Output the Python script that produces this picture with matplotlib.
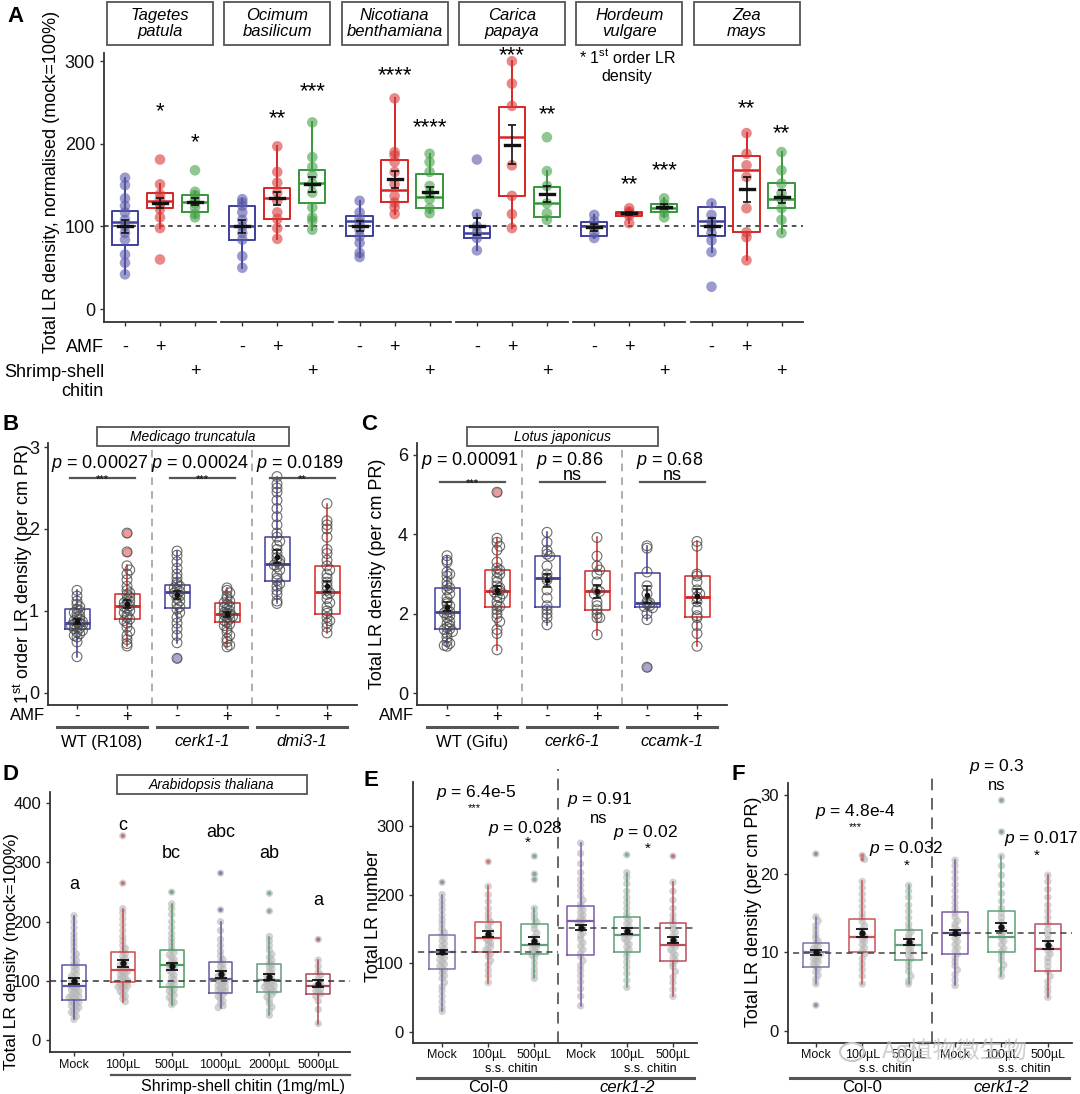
import matplotlib
matplotlib.use('Agg')
import matplotlib.pyplot as plt
from matplotlib.patches import Rectangle, Ellipse
from matplotlib.lines import Line2D
from matplotlib.transforms import blended_transform_factory
import numpy as np

plt.rcParams['font.family'] = ['Liberation Sans', 'DejaVu Sans']
plt.rcParams['mathtext.fontset'] = 'custom'
plt.rcParams['mathtext.rm'] = 'Liberation Sans'
plt.rcParams['mathtext.it'] = 'Liberation Sans:italic'

# ---------------- data: panel A ----------------
a_species = ['Tagetes\npatula', 'Ocimum\nbasilicum', 'Nicotiana\nbenthamiana',
             'Carica\npapaya', 'Hordeum\nvulgare', 'Zea\nmays']
a_pts_mock = [[159, 150, 134, 125, 117, 108, 100, 92, 84, 66, 56, 42],
              [133, 129, 125, 117, 108, 100, 92, 84, 64, 50],
              [131, 117, 109, 104, 96, 88, 80, 68, 63],
              [181, 115, 100, 92, 86, 71],
              [114, 106, 99, 92, 86],
              [128, 114, 106, 100, 92, 83, 69, 27]]
a_pts_amf = [[181, 151, 139, 133, 127, 121, 111, 98, 60],
             [197, 166, 153, 141, 131, 117, 109, 98, 85],
             [255, 190, 186, 178, 166, 151, 137, 129, 123, 115],
             [300, 273, 246, 174, 137, 115, 98],
             [122, 118, 116, 113, 104],
             [213, 188, 174, 160, 122, 93, 87, 59]]
a_pts_chitin = [[168, 142, 138, 133, 128, 123, 115, 111],
                [226, 184, 172, 162, 152, 141, 123, 111, 107, 96],
                [188, 178, 166, 149, 140, 133, 122, 116],
                [208, 167, 149, 128, 116, 108],
                [134, 127, 122, 117, 111],
                [190, 168, 152, 140, 133, 122, 108, 92]]
# (whislo, q1, median, q3, whishi)
a_box_mock = [(42, 78, 105, 119, 159), (50, 83, 100, 125, 133), (63, 88, 107, 113, 131),
              (71, 86, 92, 101, 115), (86, 89, 100, 105, 114), (69, 88, 106, 124, 128)]
a_box_amf = [(98, 122, 131, 140, 151), (85, 109, 135, 147, 197), (115, 129, 144, 180, 255),
             (98, 137, 208, 245, 300), (104, 113, 116, 118, 122), (59, 93, 168, 185, 213)]
a_box_chitin = [(111, 118, 130, 138, 142), (96, 128, 152, 168, 226), (116, 122, 136, 164, 188),
                (108, 111, 128, 148, 167), (111, 117, 122, 127, 134), (92, 122, 133, 152, 190)]
a_mean_mock = [100, 100, 100, 100, 99, 100]
a_se_mock = [8, 8, 6, 10, 4, 10]
a_mean_amf = [128, 134, 157, 199, 116, 145]
a_se_amf = [6, 8, 10, 24, 2, 15]
a_mean_chitin = [130, 151, 142, 139, 124, 136]
a_se_chitin = [4, 9, 6, 10, 3, 8]
a_star_amf = ['*', '**', '****', '***', '**', '**']
a_star_amf_y = [239, 231, 282, 307, 151, 242]
a_star_chitin = ['*', '***', '****', '**', '***', '**']
a_star_chitin_y = [201, 263, 219, 235, 168, 212]

# ---------------- data: panel B (Medicago) ----------------
b_genotypes = ['WT (R108)', 'cerk1-1', 'dmi3-1']
b_pts = [[1.25, 1.18, 1.12, 1.08, 1.05, 1.02, 1.0, 0.98, 0.96, 0.94, 0.92, 0.9, 0.88, 0.87, 0.86,
          0.85, 0.84, 0.83, 0.82, 0.8, 0.79, 0.78, 0.76, 0.74, 0.72, 0.7, 0.68, 0.62, 0.44],
         [1.95, 1.72, 1.55, 1.5, 1.45, 1.38, 1.3, 1.25, 1.22, 1.2, 1.17, 1.14, 1.12, 1.1, 1.08, 1.06,
          1.05, 1.03, 1.0, 0.98, 0.95, 0.92, 0.9, 0.88, 0.85, 0.8, 0.75, 0.7, 0.65, 0.6, 0.57],
         [1.73, 1.68, 1.6, 1.52, 1.45, 1.4, 1.35, 1.32, 1.3, 1.28, 1.26, 1.24, 1.22, 1.2, 1.18, 1.15,
          1.12, 1.08, 1.05, 1.02, 0.98, 0.92, 0.85, 0.78, 0.7, 0.61, 0.42],
         [1.28, 1.25, 1.22, 1.18, 1.15, 1.12, 1.1, 1.08, 1.06, 1.04, 1.02, 1.0, 0.98, 0.97, 0.96, 0.95,
          0.93, 0.92, 0.9, 0.88, 0.86, 0.84, 0.82, 0.78, 0.74, 0.7, 0.66, 0.62, 0.58, 0.56],
         [2.64, 2.55, 2.5, 2.45, 2.35, 2.25, 2.15, 2.05, 1.95, 1.9, 1.85, 1.8, 1.75, 1.7, 1.65, 1.62,
          1.6, 1.58, 1.56, 1.54, 1.5, 1.45, 1.4, 1.37, 1.33, 1.3, 1.25, 1.2, 1.12, 1.09],
         [2.31, 2.1, 2.05, 2.0, 1.9, 1.75, 1.7, 1.62, 1.55, 1.5, 1.45, 1.4, 1.35, 1.3, 1.25, 1.22,
          1.2, 1.15, 1.1, 1.05, 1.0, 0.97, 0.92, 0.88, 0.85, 0.8, 0.73]]
b_box = [(0.44, 0.78, 0.85, 1.02, 1.25), (0.57, 0.90, 1.06, 1.21, 1.56), (0.61, 1.03, 1.23, 1.31, 1.73),
         (0.56, 0.86, 0.96, 1.09, 1.28), (1.09, 1.37, 1.57, 1.90, 2.64), (0.73, 0.96, 1.23, 1.55, 2.31)]
b_fliers = [[], [1.95, 1.72], [0.42], [], [], []]
b_mean = [0.87, 1.08, 1.19, 0.96, 1.66, 1.30]
b_se = [0.03, 0.05, 0.05, 0.03, 0.08, 0.07]
b_pvals = ['0.00027', '0.00024', '0.0189']
b_stars = ['***', '***', '**']

# ---------------- data: panel C (Lotus) ----------------
c_genotypes = ['WT (Gifu)', 'cerk6-1', 'ccamk-1']
c_pts = [[3.46, 3.35, 3.3, 3.05, 3.0, 2.95, 2.8, 2.7, 2.65, 2.6, 2.5, 2.4, 2.3, 2.25, 2.2, 2.1, 2.05,
          2.02, 2.0, 1.95, 1.9, 1.8, 1.75, 1.7, 1.65, 1.62, 1.6, 1.55, 1.5, 1.4, 1.3, 1.25, 1.2, 1.18],
         [5.06, 3.9, 3.8, 3.7, 3.6, 3.3, 3.15, 3.1, 3.05, 3.0, 2.9, 2.8, 2.7, 2.65, 2.6, 2.58, 2.55,
          2.5, 2.45, 2.4, 2.3, 2.2, 2.18, 2.1, 2.0, 1.9, 1.8, 1.6, 1.5, 1.09],
         [4.05, 3.8, 3.6, 3.5, 3.45, 3.2, 3.0, 2.9, 2.85, 2.6, 2.4, 2.2, 2.1, 2.0, 1.9, 1.72],
         [3.92, 3.45, 3.2, 3.1, 3.0, 2.8, 2.6, 2.56, 2.5, 2.3, 2.2, 2.1, 2.0, 1.9, 1.9, 1.47],
         [3.71, 3.65, 3.05, 2.7, 2.5, 2.3, 2.27, 2.25, 2.2, 2.18, 2.15, 2.0, 1.85, 0.65],
         [3.82, 3.7, 3.0, 2.95, 2.8, 2.6, 2.5, 2.42, 2.3, 2.1, 1.95, 1.9, 1.7, 1.5, 1.18]]
c_box = [(1.18, 1.61, 2.04, 2.65, 3.46), (1.09, 2.18, 2.58, 3.09, 3.90), (1.72, 2.18, 2.90, 3.45, 4.05),
         (1.47, 2.10, 2.56, 3.08, 3.92), (1.85, 2.16, 2.27, 3.03, 3.71), (1.18, 1.92, 2.42, 2.94, 3.82)]
c_fliers = [[], [5.06], [], [], [0.65], []]
c_mean = [2.18, 2.60, 2.84, 2.56, 2.48, 2.44]
c_se = [0.12, 0.10, 0.16, 0.17, 0.22, 0.17]
c_pvals = ['0.00091', '0.86', '0.68']
c_stars = ['***', 'ns', 'ns']

# ---------------- data: panel D (Arabidopsis, dose) ----------------
d_labels = ['Mock', '100µL', '500µL', '1000µL', '2000µL', '5000µL']
d_pts = [[210, 200, 190, 180, 172, 165, 158, 150, 145, 140, 135, 130, 127, 124, 120, 116, 112, 108,
          105, 102, 99, 96, 93, 91, 89, 87, 85, 83, 80, 78, 76, 74, 72, 70, 68, 66, 64, 62, 60, 58,
          55, 52, 50, 47, 44, 40, 35],
         [345, 265, 222, 215, 205, 195, 185, 175, 168, 160, 155, 150, 146, 142, 138, 134, 130, 127,
          124, 121, 119, 117, 115, 112, 110, 107, 105, 102, 100, 98, 96, 94, 92, 90, 88, 85, 82, 78,
          74, 70, 65],
         [250, 230, 222, 212, 200, 190, 180, 172, 165, 158, 152, 148, 144, 140, 136, 132, 129, 127,
          125, 122, 118, 114, 110, 106, 102, 98, 95, 92, 89, 86, 83, 80, 76, 72, 68, 64, 60],
         [282, 220, 200, 185, 170, 160, 150, 142, 136, 132, 128, 124, 120, 116, 112, 108, 105, 103,
          101, 99, 97, 95, 92, 90, 88, 86, 84, 82, 80, 77, 74, 70, 66, 62, 58, 55],
         [248, 218, 175, 168, 160, 152, 145, 140, 135, 130, 127, 124, 120, 116, 112, 108, 105, 102,
          100, 98, 96, 94, 92, 90, 88, 86, 84, 82, 80, 77, 73, 68, 62, 56, 50, 42],
         [170, 135, 125, 115, 110, 104, 98, 94, 91, 89, 86, 83, 80, 78, 74, 66, 52, 28]]
d_box = [(35, 68, 91, 127, 210), (65, 98, 119, 149, 222), (60, 89, 127, 152, 230),
         (55, 80, 103, 132, 200), (42, 82, 102, 129, 175), (28, 78, 91, 112, 135)]
d_fliers = [[], [345, 265], [250], [282, 220], [248, 218], [170]]
d_mean = [100, 130, 125, 111, 106, 95]
d_se = [5, 6, 6, 6, 5, 6]
d_letters = ['a', 'c', 'bc', 'abc', 'ab', 'a']
d_letter_y = [262, 362, 315, 350, 315, 235]

# ---------------- data: panel E (LR number) ----------------
ef_labels = ['Mock', '100µL', '500µL', 'Mock', '100µL', '500µL']
e_pts = [[218, 200, 192, 185, 178, 170, 163, 157, 150, 145, 141, 137, 133, 129, 125, 121, 118, 116,
          114, 111, 108, 105, 102, 99, 96, 93, 90, 86, 82, 78, 72, 66, 60, 52, 44, 36, 30],
         [248, 212, 200, 190, 180, 172, 165, 160, 155, 150, 146, 142, 138, 136, 133, 130, 127, 124,
          120, 117, 114, 110, 104, 98, 90, 82, 72],
         [256, 230, 222, 180, 172, 165, 160, 156, 150, 144, 138, 132, 128, 126, 124, 121, 118, 115,
          112, 108, 100, 92, 85, 78],
         [275, 260, 245, 232, 222, 214, 206, 198, 192, 186, 182, 178, 174, 170, 166, 163, 160, 156,
          152, 148, 144, 140, 135, 130, 125, 120, 115, 110, 104, 97, 90, 82, 73, 63, 52, 38],
         [258, 232, 225, 216, 205, 196, 188, 180, 172, 167, 162, 158, 153, 149, 145, 142, 139, 136,
          132, 128, 124, 120, 116, 110, 102, 94, 85, 75, 65],
         [256, 218, 205, 192, 180, 170, 162, 156, 150, 145, 140, 135, 130, 127, 124, 120, 116, 112,
          108, 104, 100, 95, 88, 80, 72, 62, 52]]
e_box = [(30, 92, 117, 141, 200), (72, 117, 137, 160, 212), (78, 113, 126, 157, 180),
         (38, 112, 162, 184, 275), (65, 117, 141, 168, 232), (52, 103, 127, 158, 218)]
e_fliers = [[218], [248], [256, 230, 222], [], [258], [256]]
e_mean = [117, 143, 133, 152, 147, 134]
e_se = [3, 4, 5, 4, 4, 5]
e_ref = [117, 152]

# ---------------- data: panel F (LR density) ----------------
f_pts = [[22.5, 14.5, 14, 13.4, 12.8, 12.2, 11.8, 11.4, 11.1, 10.8, 10.5, 10.3, 10.1, 10.0, 9.8, 9.6,
          9.4, 9.2, 9.0, 8.8, 8.5, 8.2, 7.9, 7.5, 7.1, 6.6, 6.0, 3.3],
         [22.3, 21.8, 19, 18.2, 17.4, 16.6, 15.8, 15.0, 14.4, 13.9, 13.4, 12.9, 12.4, 12.0, 11.7, 11.4,
          11.0, 10.6, 10.2, 9.8, 9.2, 8.5, 7.8, 7.0, 6.0],
         [18.5, 17.8, 17, 16, 15.2, 14.4, 13.6, 13.0, 12.6, 12.2, 11.8, 11.4, 11.0, 10.7, 10.4, 10.0,
          9.6, 9.2, 8.8, 8.2, 7.6, 7.0, 6.4, 6.0],
         [21.7, 21, 20.2, 19.4, 18.6, 17.8, 17, 16.3, 15.6, 15.0, 14.5, 14, 13.6, 13.2, 12.8, 12.5, 12.2,
          11.8, 11.4, 11.0, 10.6, 10.2, 9.8, 9.3, 8.8, 8.3, 7.8, 7.2, 6.5, 5.8],
         [29.3, 25.3, 22.2, 21.0, 19.8, 18.6, 17.5, 16.5, 15.6, 15.0, 14.4, 13.8, 13.2, 12.7, 12.2, 11.8,
          11.4, 11.0, 10.5, 10.1, 9.6, 9.0, 8.4, 7.8, 7.0],
         [19.8, 19, 18, 17, 16, 15.2, 14.4, 13.6, 12.9, 12.2, 11.6, 11, 10.6, 10.2, 9.8, 9.3, 8.8, 8.2,
          7.6, 7.0, 6.3, 5.6, 5.0, 4.3]]
f_box = [(6.0, 8.2, 10.0, 11.2, 14.5), (6.0, 10.0, 11.9, 14.2, 19.0), (6.0, 9.0, 11.0, 12.8, 18.5),
         (5.8, 9.85, 12.5, 15.1, 21.7), (7.0, 10.1, 12.0, 15.2, 22.2), (4.3, 7.6, 10.4, 13.6, 19.8)]
f_fliers = [[22.5, 3.3], [22.3, 21.8], [], [], [29.3, 25.3], []]
f_mean = [10.0, 12.5, 11.3, 12.5, 13.2, 10.9]
f_se = [0.3, 0.5, 0.4, 0.3, 0.5, 0.5]
f_ref = [9.9, 12.5]

# ---------------- styling ----------------
W, H = 1080, 1094
BLUE, RED, GREEN = '#3f3f9c', '#d42626', '#36963a'
PT_BLUE, PT_RED, PT_GREEN = '#5a5aaa', '#d83a3a', '#46a04a'
AXC = '#333333'
SIG = '#555555'
fig = plt.figure(figsize=(W / 100, H / 100), dpi=100)


def rect(x0, y0, x1, y1):
    return [x0 / W, 1 - y1 / H, (x1 - x0) / W, (y1 - y0) / H]


def fx(x):
    return x / W


def fy(y):
    return 1 - y / H


def style_axes(ax, left=True, ls=13):
    for s in ['top', 'right']:
        ax.spines[s].set_visible(False)
    ax.spines['bottom'].set_color(AXC)
    ax.spines['bottom'].set_linewidth(1.3)
    ax.spines['left'].set_color(AXC)
    ax.spines['left'].set_linewidth(1.3)
    if not left:
        ax.spines['left'].set_visible(False)
        ax.tick_params(axis='y', left=False, labelleft=False)
    ax.tick_params(axis='both', colors=AXC, length=3, width=1.0, labelsize=ls, labelcolor='#111111')
    ax.set_facecolor('none')


def box(ax, pos, st, color, width, lw=1.3, mlw=1.6, z=3):
    stats = [dict(whislo=st[0], q1=st[1], med=st[2], q3=st[3], whishi=st[4], fliers=[])]
    ax.bxp(stats, positions=[pos], widths=width, showfliers=False, manage_ticks=False,
           boxprops=dict(color=color, lw=lw, zorder=z),
           whiskerprops=dict(color=color, lw=lw, zorder=z),
           capprops=dict(lw=0),
           medianprops=dict(color=color, lw=mlw, zorder=z))


def swarm_x(vals, pos, binw, step, maxw):
    vals = np.asarray(vals, float)
    xs = np.full(len(vals), float(pos))
    bins = np.floor(vals / binw).astype(int)
    for b in np.unique(bins):
        idx = np.where(bins == b)[0]
        for i, ii in enumerate(idx):
            k = (i + 1) // 2
            sgn = 1 if i % 2 else -1
            xs[ii] = pos + sgn * min(k * step, maxw)
    return xs


def strip(x0, y0, x1, y1, label, fs=12):
    fig.patches.append(Rectangle((fx(x0), fy(y1)), (x1 - x0) / W, (y1 - y0) / H,
                                 transform=fig.transFigure, facecolor='white',
                                 edgecolor='#555555', lw=1.3))
    fig.text(fx((x0 + x1) / 2), fy((y0 + y1) / 2), label, ha='center', va='center',
             fontsize=fs, style='italic', linespacing=1.05)


def bt(ax):
    return blended_transform_factory(ax.transData, fig.transFigure)


# ================= panel A =================
a_groups = [(a_pts_mock, a_box_mock, a_mean_mock, a_se_mock, BLUE, PT_BLUE),
            (a_pts_amf, a_box_amf, a_mean_amf, a_se_amf, RED, PT_RED),
            (a_pts_chitin, a_box_chitin, a_mean_chitin, a_se_chitin, GREEN, PT_GREEN)]
for k in range(6):
    x0 = 104 + k * 117.3
    ax = fig.add_axes(rect(x0, 53, x0 + 112, 322))
    ax.set_xlim(0.4, 3.6)
    ax.set_ylim(-15.7, 310)
    style_axes(ax, left=(k == 0))
    ax.set_yticks([0, 100, 200, 300])
    ax.set_xticks([1, 2, 3])
    ax.set_xticklabels([])
    ax.axhline(100, color='#222222', lw=1.1, ls=(0, (3, 3)), zorder=1)
    for j, (pts, bx, mn, se, col, pcol) in enumerate(a_groups):
        pos = j + 1
        box(ax, pos, bx[k], col, 0.75, lw=1.4, mlw=1.8)
        ax.scatter([pos] * len(pts[k]), pts[k], s=58, color=pcol, alpha=0.6,
                   edgecolors='none', zorder=4)
        ax.errorbar(pos, mn[k], yerr=se[k], fmt='none', ecolor='#111111', elinewidth=1.2,
                    capsize=3, capthick=1.2, zorder=6)
        ax.plot([pos - 0.2, pos + 0.2], [mn[k], mn[k]], color='#111111', lw=2.4, zorder=6)
    ax.text(2, a_star_amf_y[k], a_star_amf[k], ha='center', va='center', fontsize=16, zorder=7)
    ax.text(3, a_star_chitin_y[k], a_star_chitin[k], ha='center', va='center', fontsize=16, zorder=7)
    ax.text(1, fy(347), '-', transform=bt(ax), ha='center', va='center', fontsize=13)
    ax.text(2, fy(347), '+', transform=bt(ax), ha='center', va='center', fontsize=13)
    ax.text(3, fy(371), '+', transform=bt(ax), ha='center', va='center', fontsize=13)
    strip(x0 + 3, 2, x0 + 109, 45, a_species[k], fs=12)

fig.text(fx(104), fy(347), 'AMF', ha='right', va='center', fontsize=13)
fig.text(fx(104), fy(382), 'Shrimp-shell\nchitin', ha='right', va='center', fontsize=13,
         multialignment='right', linespacing=1.15)
fig.text(fx(52), fy(182), 'Total LR density, normalised (mock=100%)', rotation=90,
         ha='center', va='center', fontsize=13)
fig.text(fx(627), fy(57), r'* 1$^{\mathrm{st}}$ order LR', ha='center', va='center', fontsize=11.5)
fig.text(fx(627), fy(76), 'density', ha='center', va='center', fontsize=11.5)


# ================= panels B & C =================
def panel_bc(px, ylim, xlim, yticks, pts, bxs, fl, mean, se, genotypes, pvals, stars,
             sig_y, p_y, ylabel, ylabel_x, strip_px, strip_label):
    ax = fig.add_axes(rect(*px))
    ax.set_xlim(*xlim)
    ax.set_ylim(*ylim)
    style_axes(ax)
    ax.set_yticks(yticks)
    ax.set_xticks(range(1, 7))
    ax.set_xticklabels([])
    for sx in [2.5, 4.5]:
        ax.axvline(sx, color='#999999', lw=1.1, ls=(0, (5, 4)), zorder=1)
    span = ylim[1] - ylim[0]
    for i in range(6):
        col = BLUE if i % 2 == 0 else RED
        box(ax, i + 1, bxs[i], col, 0.5, lw=1.1, mlw=2.0)
        xs = swarm_x(pts[i], i + 1, span * 0.018, 0.055, 0.2)
        ax.scatter(xs, pts[i], s=50, facecolors='none', edgecolors='#4a4a4a', lw=0.8,
                   alpha=0.8, zorder=4)
        if fl[i]:
            ax.scatter([i + 1] * len(fl[i]), fl[i], s=40, color=col, alpha=0.45,
                       edgecolors='#4a4a4a', lw=0.8, zorder=5)
        ax.errorbar(i + 1, mean[i], yerr=se[i], fmt='o', color='#111111', ms=3,
                    elinewidth=1.1, capsize=3, capthick=1.1, zorder=6)
    for g in range(3):
        a, b = 2 * g + 1, 2 * g + 2
        ax.plot([a - 0.15, b + 0.15], [sig_y, sig_y], color=SIG, lw=1.6, zorder=5)
        if stars[g] == 'ns':
            ax.text((a + b) / 2, sig_y + span * 0.006, 'ns', ha='center', va='baseline',
                    fontsize=13, zorder=7)
        else:
            ax.text((a + b) / 2, sig_y - span * 0.016, stars[g], ha='center', va='baseline',
                    fontsize=8, zorder=7)
        ax.text((a + b) / 2 - 0.04, p_y, r'$p$ = ' + pvals[g], ha='center', va='center',
                fontsize=13, zorder=7)
        ax.add_line(Line2D([a - 0.4, b + 0.4], [fy(727), fy(727)], transform=bt(ax),
                           color=SIG, lw=2.2, clip_on=False))
        ax.text((a + b) / 2, fy(742), genotypes[g], transform=bt(ax), ha='center', va='center',
                fontsize=12, style='normal' if g == 0 else 'italic')
        ax.text(a, fy(716), '-', transform=bt(ax), ha='center', va='center', fontsize=12)
        ax.text(b, fy(716), '+', transform=bt(ax), ha='center', va='center', fontsize=12)
    fig.text(fx(px[0] - 3), fy(716), 'AMF', ha='right', va='center', fontsize=12)
    fig.text(fx(ylabel_x), fy(574), ylabel, rotation=90, ha='center', va='center', fontsize=13)
    strip(*strip_px, strip_label, fs=10)
    return ax


panel_bc((48, 443, 357, 705), (-0.15, 3.05), (0.42, 6.6), [0, 1, 2, 3], b_pts, b_box, b_fliers,
         b_mean, b_se, b_genotypes, b_pvals, b_stars, 2.62, 2.80,
         r'1$^{\mathrm{st}}$ order LR density (per cm PR)', 23, (97, 427, 289, 446),
         'Medicago truncatula')
panel_bc((417, 443, 727, 705), (-0.3, 6.3), (0.4, 6.6), [0, 2, 4, 6], c_pts, c_box, c_fliers,
         c_mean, c_se, c_genotypes, c_pvals, c_stars, 5.33, 5.86,
         'Total LR density (per cm PR)', 378, (467, 427, 658, 446), 'Lotus japonicus')


# ================= panel D =================
d_cols = ['#5a5aa6', '#cc4a4a', '#4e9e5e', '#6a5a9a', '#6a9a80', '#a84858']
ax = fig.add_axes(rect(50, 792, 350, 1052))
ax.set_xlim(0.51, 6.65)
ax.set_ylim(-20, 419)
style_axes(ax, ls=12)
ax.set_yticks([0, 100, 200, 300, 400])
ax.set_xticks(range(1, 7))
ax.set_xticklabels(d_labels, fontsize=9)
ax.tick_params(axis='x', pad=2)
for i in range(6):
    xs = swarm_x(d_pts[i], i + 1, 9, 0.05, 0.3)
    ax.scatter(xs, d_pts[i], s=28, color='#b5b5b5', alpha=0.6, edgecolors='none', zorder=2)
    box(ax, i + 1, d_box[i], d_cols[i], 0.49, lw=1.1, mlw=1.6, z=3)
    if d_fliers[i]:
        ax.scatter([i + 1] * len(d_fliers[i]), d_fliers[i], s=9, color=d_cols[i], alpha=0.7,
                   edgecolors='none', zorder=4)
    ax.errorbar(i + 1, d_mean[i], yerr=d_se[i], fmt='o', color='#111111', ms=3.5,
                elinewidth=1.3, capsize=4, capthick=1.3, zorder=6)
    ax.text(i + 1, d_letter_y[i], d_letters[i], ha='center', va='center', fontsize=13)
ax.axhline(100, color='#333333', lw=1.1, ls=(0, (4, 3)), zorder=5)
ax.add_line(Line2D([1.75, 6.65], [fy(1075), fy(1075)], transform=bt(ax), color=SIG, lw=1.6,
                   clip_on=False))
fig.text(fx(243), fy(1086), 'Shrimp-shell chitin (1mg/mL)', ha='center', va='center',
         fontsize=11.5)
fig.text(fx(12), fy(952), 'Total LR density (mock=100%)', rotation=90, ha='center', va='center',
         fontsize=12.5)
strip(117, 775, 307, 794, 'Arabidopsis thaliana', fs=10)

# ================= panels E & F =================
ef_cols = ['#7676a8', '#c85454', '#5ea078', '#7e5aa8', '#5ea078', '#b85060']


def panel_ef(px, ylim, xlim, yticks, pts, bxs, fl, mean, se, ref, binw, ylabel, ylabel_x, ylabel_y,
             vtop):
    ax = fig.add_axes(rect(*px))
    ax.set_xlim(*xlim)
    ax.set_ylim(*ylim)
    style_axes(ax, ls=12)
    ax.set_yticks(yticks)
    ax.set_xticks(range(1, 7))
    ax.set_xticklabels(ef_labels, fontsize=9)
    ax.tick_params(axis='x', pad=1.5)
    for i in range(6):
        xs = swarm_x(pts[i], i + 1, binw, 0.05, 0.3)
        ax.scatter(xs, pts[i], s=28, color='#b5b5b5', alpha=0.6, edgecolors='none', zorder=2)
        box(ax, i + 1, bxs[i], ef_cols[i], 0.57, lw=1.1, mlw=1.6, z=3)
        if fl[i]:
            ax.scatter([i + 1] * len(fl[i]), fl[i], s=9, color=ef_cols[i], alpha=0.7,
                       edgecolors='none', zorder=4)
        ax.errorbar(i + 1, mean[i], yerr=se[i], fmt='o', color='#111111', ms=3.5,
                    elinewidth=1.3, capsize=4, capthick=1.3, zorder=6)
    ax.plot([xlim[0] + 0.1, 3.5], [ref[0], ref[0]], color='#444444', lw=1.1, ls=(0, (4, 3)), zorder=5)
    ax.plot([3.5, xlim[1]], [ref[1], ref[1]], color='#444444', lw=1.1, ls=(0, (4, 3)), zorder=5)
    ax.axvline(3.5, ymin=0, ymax=vtop, color='#666666', lw=1.4, ls=(0, (6, 4)), clip_on=False)
    for g, name in enumerate(['Col-0', 'cerk1-2']):
        c = 2.5 + 3 * g
        ax.text(c, fy(1069), 's.s. chitin', transform=bt(ax), ha='center', va='center',
                fontsize=9)
        ax.add_line(Line2D([3 * g + 0.45, 3 * g + 3.45], [fy(1078), fy(1078)], transform=bt(ax),
                           color=SIG, lw=2.2, clip_on=False))
        ax.text(2 + 3 * g, fy(1087), name, transform=bt(ax), ha='center', va='center',
                fontsize=12, style='normal' if g == 0 else 'italic')
    fig.text(fx(ylabel_x), fy(ylabel_y), ylabel, rotation=90, ha='center', va='center', fontsize=13)
    return ax


axE = panel_ef((413, 782, 697, 1043), (-16, 364), (0.37, 6.52), [0, 100, 200, 300], e_pts, e_box,
               e_fliers, e_mean, e_se, e_ref, 8, 'Total LR number', 373, 916, 1.05)
axE.text(1.75, 349, r'$p$ = 6.4e-5', ha='center', va='center', fontsize=12.5)
axE.text(1.7, 326, '***', ha='center', va='center', fontsize=8)
axE.text(2.8, 296, r'$p$ = 0.028', ha='center', va='center', fontsize=12.5)
axE.text(2.85, 276, '*', ha='center', va='center', fontsize=11)
axE.text(4.4, 339, r'$p$ = 0.91', ha='center', va='center', fontsize=12.5)
axE.text(4.4, 311, 'ns', ha='center', va='center', fontsize=12)
axE.text(5.4, 291, r'$p$ = 0.02', ha='center', va='center', fontsize=12.5)
axE.text(5.45, 267, '*', ha='center', va='center', fontsize=11)

axF = panel_ef((788, 783, 1072, 1043), (-1.5, 31.5), (0.4, 6.52), [0, 10, 20, 30], f_pts, f_box,
               f_fliers, f_mean, f_se, f_ref, 0.7, 'Total LR density (per cm PR)', 753, 912, 1.02)
axF.text(1.85, 27.9, r'$p$ = 4.8e-4', ha='center', va='center', fontsize=12.5)
axF.text(1.85, 25.9, '***', ha='center', va='center', fontsize=8)
axF.text(2.95, 23.2, r'$p$ = 0.032', ha='center', va='center', fontsize=12.5)
axF.text(2.95, 21.0, '*', ha='center', va='center', fontsize=11)
axF.text(4.9, 33.6, r'$p$ = 0.3', ha='center', va='center', fontsize=12.5, clip_on=False)
axF.text(4.9, 31.2, 'ns', ha='center', va='center', fontsize=12, clip_on=False)
axF.text(5.85, 24.4, r'$p$ = 0.017', ha='center', va='center', fontsize=12.5, clip_on=False)
axF.text(5.75, 22.3, '*', ha='center', va='center', fontsize=11)

# watermark
fig.patches.append(Ellipse((fx(852), fy(1052)), 24 / W, 18 / H, transform=fig.transFigure,
                           facecolor='none', edgecolor='#c8c8c8', lw=1.5))
fig.text(fx(955), fy(1050), 'Ag植物微生物', ha='center', va='center', fontsize=17,
         color='#c0c0c0', alpha=0.75, family=['Noto Sans CJK SC', 'DejaVu Sans'])

# panel letters
for lab, (x, y) in zip('ABCDEF', [(15, 16), (11, 425), (369, 425), (11, 774), (371, 781), (738, 774)]):
    fig.text(fx(x), fy(y), lab, ha='center', va='center', fontsize=16, fontweight='bold')

fig.savefig('out.png', dpi=100, facecolor='white')
